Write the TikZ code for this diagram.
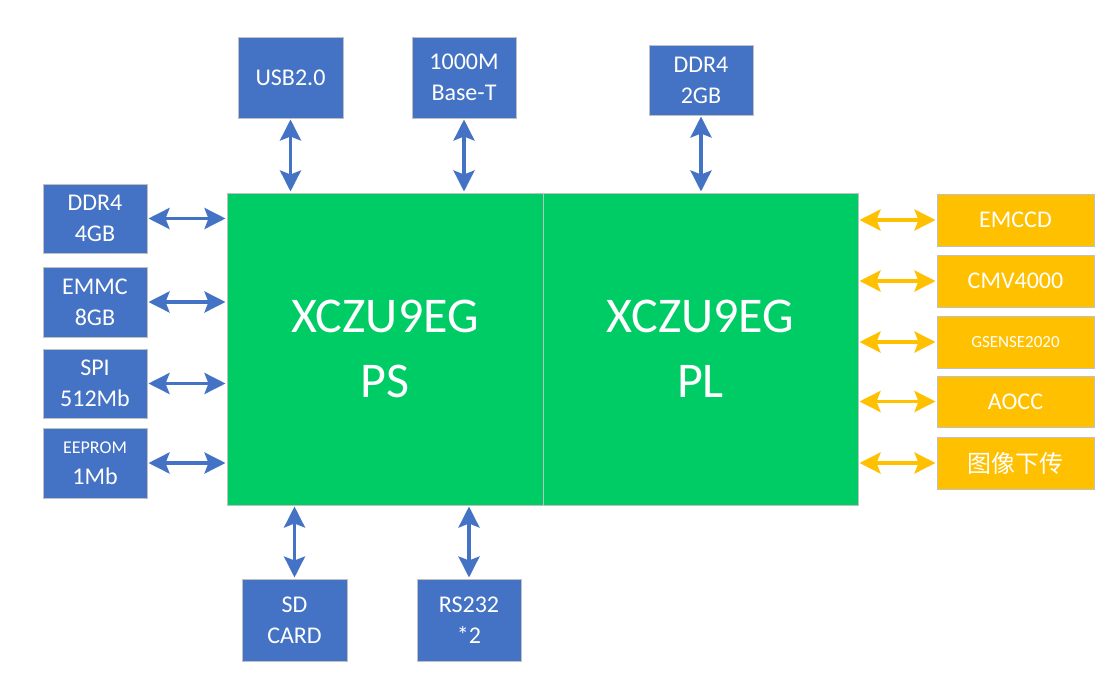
\documentclass[tikz,border=0pt]{standalone}
\usepackage{fontspec}
\setmainfont{Carlito}
\newfontfamily\cjk{Noto Sans CJK SC}
\usetikzlibrary{arrows.meta}
\definecolor{bbox}{HTML}{4472C4}
\definecolor{gbox}{HTML}{00CC66}
\definecolor{obox}{HTML}{FFC000}
\definecolor{edge}{HTML}{C0C0C0}
\begin{document}
\begin{tikzpicture}[x=1pt,y=-1pt,
  bluebox/.style={draw=edge,line width=1pt,fill=bbox,text=white,inner sep=0pt,align=center,font=\fontsize{24}{31}\selectfont},
  orangebox/.style={draw=edge,line width=1pt,fill=obox,text=white,inner sep=0pt,align=center,font=\fontsize{24}{31}\selectfont},
  chip/.style={draw=edge,line width=1pt,fill=gbox,text=white,inner sep=0pt,align=center,font=\fontsize{50}{65}\selectfont},
  barrow/.style={draw=bbox,line width=3.5pt,{Stealth[length=21pt,width=21pt,inset=4pt]}-{Stealth[length=21pt,width=21pt,inset=4pt]},shorten <=1pt,shorten >=1pt},
  oarrow/.style={draw=obox,line width=3.5pt,{Stealth[length=21pt,width=21pt,inset=4pt]}-{Stealth[length=21pt,width=21pt,inset=4pt]},shorten <=1pt,shorten >=1pt}
]
\useasboundingbox (0,0) rectangle (1112,680);
% chips
\node[chip,minimum width=316pt,minimum height=312pt] (ps) at (385,349) {XCZU9EG\\PS};
\node[chip,minimum width=315pt,minimum height=312pt] (pl) at (700.5,349) {XCZU9EG\\PL};
% left
\node[bluebox,minimum width=104pt,minimum height=69pt] (ddrl) at (95,218.5) {DDR4\\4GB};
\node[bluebox,minimum width=104pt,minimum height=70pt] (emmc) at (95,302) {EMMC\\8GB};
\node[bluebox,minimum width=104pt,minimum height=69pt] (spi) at (95,383.5) {SPI\\512Mb};
\node[bluebox,minimum width=104pt,minimum height=70pt] (eeprom) at (95,463) {{\fontsize{18}{31}\selectfont EEPROM}\\1Mb};
% top
\node[bluebox,minimum width=105pt,minimum height=81pt] (usb) at (290.5,77.5) {USB2.0};
\node[bluebox,minimum width=104pt,minimum height=81pt] (eth) at (464,77.5) {1000M\\Base-T};
\node[bluebox,minimum width=104pt,minimum height=70pt] (ddrt) at (701,80) {DDR4\\2GB};
% bottom
\node[bluebox,minimum width=105pt,minimum height=82pt] (sd) at (294.5,620) {SD\\CARD};
\node[bluebox,minimum width=104pt,minimum height=82pt] (rs) at (469,620) {RS232\\*2};
% right
\node[orangebox,minimum width=157pt,minimum height=52pt] (emccd) at (1015.5,220) {EMCCD};
\node[orangebox,minimum width=157pt,minimum height=52pt] (cmv) at (1015.5,281) {CMV4000};
\node[orangebox,minimum width=157pt,minimum height=52pt] (gsense) at (1015.5,342) {{\fontsize{17}{20}\selectfont GSENSE2020}};
\node[orangebox,minimum width=157pt,minimum height=51pt] (aocc) at (1015.5,401.5) {AOCC};
\node[orangebox,minimum width=157pt,minimum height=52pt] (img) at (1015.5,463) {{\cjk 图像下传}};
% arrows left
\draw[barrow] (ddrl.east) -- (ddrl.east -| ps.west);
\draw[barrow] (emmc.east) -- (emmc.east -| ps.west);
\draw[barrow] (spi.east) -- (spi.east -| ps.west);
\draw[barrow] (eeprom.east) -- (eeprom.east -| ps.west);
% top
\draw[barrow] (usb.south) -- (usb.south |- ps.north);
\draw[barrow] (eth.south) -- (eth.south |- ps.north);
\draw[barrow] (ddrt.south) -- (ddrt.south |- pl.north);
% bottom
\draw[barrow] (sd.north |- ps.south) -- (sd.north);
\draw[barrow] (rs.north |- ps.south) -- (rs.north);
% right
\draw[oarrow] (emccd.west -| pl.east) -- (emccd.west);
\draw[oarrow] (cmv.west -| pl.east) -- (cmv.west);
\draw[oarrow] (gsense.west -| pl.east) -- (gsense.west);
\draw[oarrow] (aocc.west -| pl.east) -- (aocc.west);
\draw[oarrow] (img.west -| pl.east) -- (img.west);
\end{tikzpicture}
\end{document}
